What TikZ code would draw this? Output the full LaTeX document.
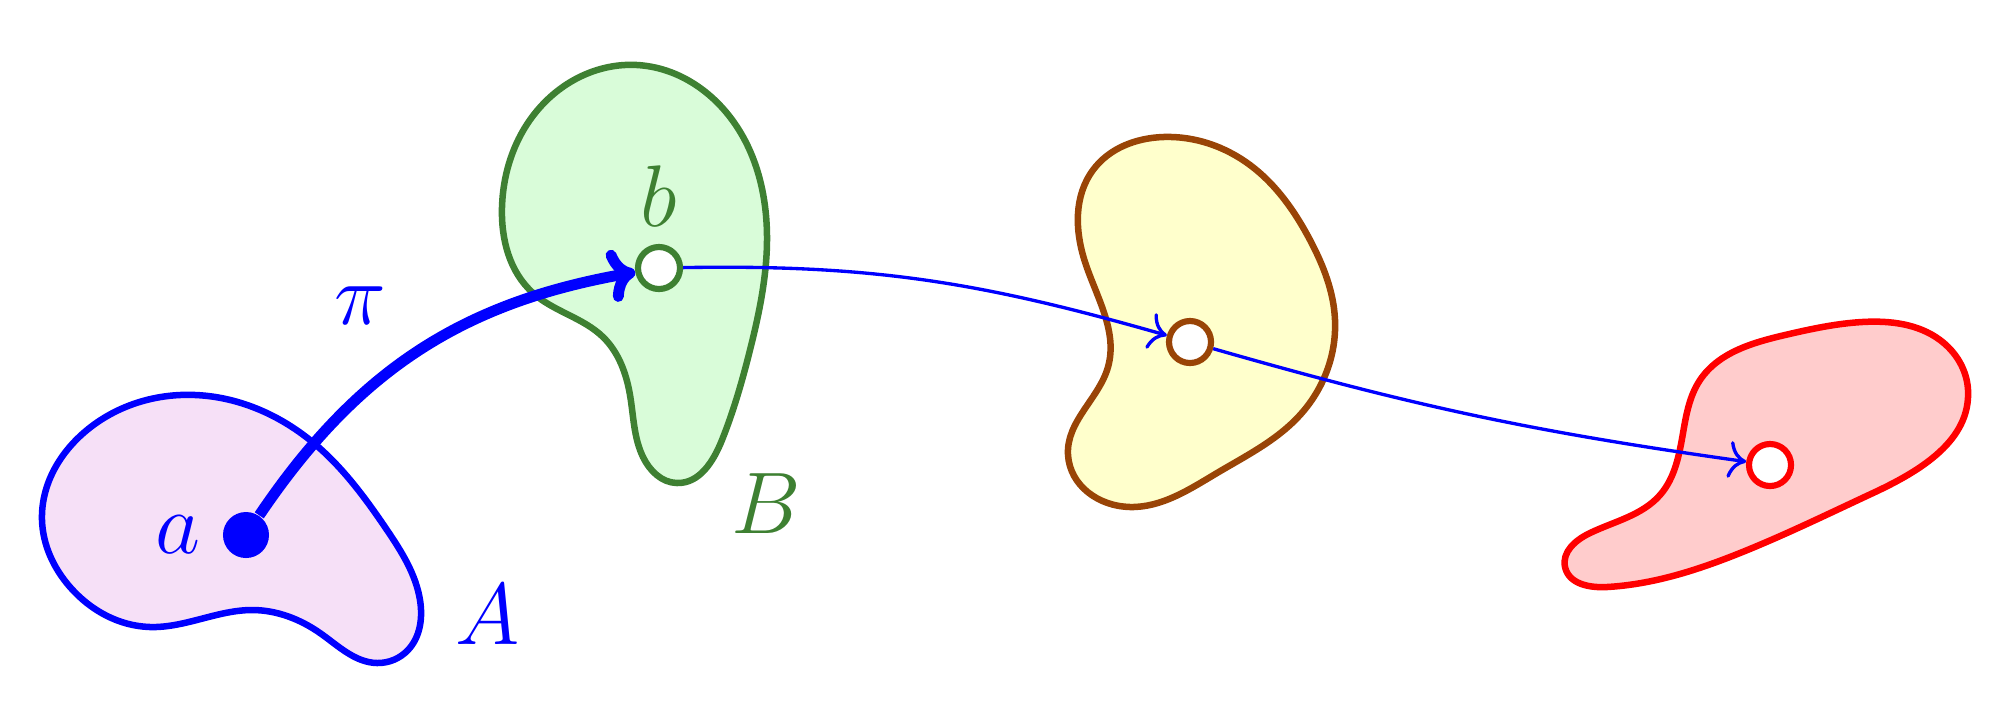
\documentclass[tikz,border=0pt]{standalone}
\usetikzlibrary{arrows.meta,hobby}
\definecolor{pinkfill}{RGB}{246,224,247}
\definecolor{greenfill}{RGB}{217,252,217}
\definecolor{greenline}{RGB}{62,128,50}
\definecolor{yellowfill}{RGB}{255,255,204}
\definecolor{brownline}{RGB}{153,68,6}
\definecolor{redfill}{RGB}{255,204,204}
\definecolor{redline}{RGB}{255,0,0}
\tikzset{
  blob/.style={line width=1.85pt, line join=round, use Hobby shortcut, closed=true},
  hole/.style={circle, fill=white, line width=1.75pt, minimum size=0.42cm, inner sep=0pt},
  lbl/.style={font=\fontsize{23}{28}\selectfont, inner sep=0pt},
  thinarrow/.style={blue, line width=0.95pt, -{Computer Modern Rightarrow[length=5pt,width=10.5pt,line cap=round]}},
  thickarrow/.style={blue, line width=3.1pt, -{Computer Modern Rightarrow[length=7.5pt,width=15pt,line cap=round]}}
}
\begin{document}
\begin{tikzpicture}[x=0.01cm,y=-0.01cm]
\useasboundingbox (0,0) rectangle (2016,708);
% blob A
\draw[blob, draw=blue, fill=pinkfill]
 (42,520) .. (87,430) .. (180,395) .. (310,440) .. (387,530) .. (420,600) .. (408,650) .. (377,663) .. (320,633) .. (253,610) .. (150,627) .. (70,587);
% blob B
\draw[blob, draw=greenline, fill=greenfill]
 (637,65) .. (730,117) .. (767,240) .. (750,350) .. (722,440) .. (677,483) .. (643,457) .. (630,395) .. (603,337) .. (533,293) .. (502,207) .. (547,100);
% blob C
\draw[blob, draw=brownline, fill=yellowfill]
 (1163,137) .. (1250,165) .. (1310,240) .. (1335,320) .. (1300,415) .. (1217,473) .. (1130,507) .. (1068,455) .. (1108,367) .. (1085,262) .. (1093,170);
% blob D
\draw[blob, draw=redline, fill=redfill]
 (1862,322) .. (1940,340) .. (1968,390) .. (1873,493) .. (1740,553) .. (1607,587) .. (1565,567) .. (1590,533) .. (1660,495) .. (1683,433) .. (1700,380) .. (1785,335);
% points
\node[circle, fill=blue, minimum size=0.46cm, inner sep=0pt] (a) at (246,535) {};
\node[hole, draw=greenline] (b) at (659,268) {};
\node[hole, draw=brownline] (c) at (1190,342) {};
\node[hole, draw=redline] (d) at (1770,465) {};
% arrows
\draw[thickarrow] (a) to[out=56, in=190] (b);
\draw[thinarrow] (b) to[out=1, in=164] (c);
\draw[thinarrow] (c) to[out=-16, in=172] (d);
% labels
\node[lbl, blue] (la) at (178,535) {$a$};
\node[lbl, blue] (lA) at (488,615) {$A$};
\node[lbl, greenline] (lb) at (659,196) {$b$};
\node[lbl, greenline] (lB) at (766,504) {$B$};
\node[lbl, blue] (lpi) at (360,306) {$\pi$};
\end{tikzpicture}
\end{document}
